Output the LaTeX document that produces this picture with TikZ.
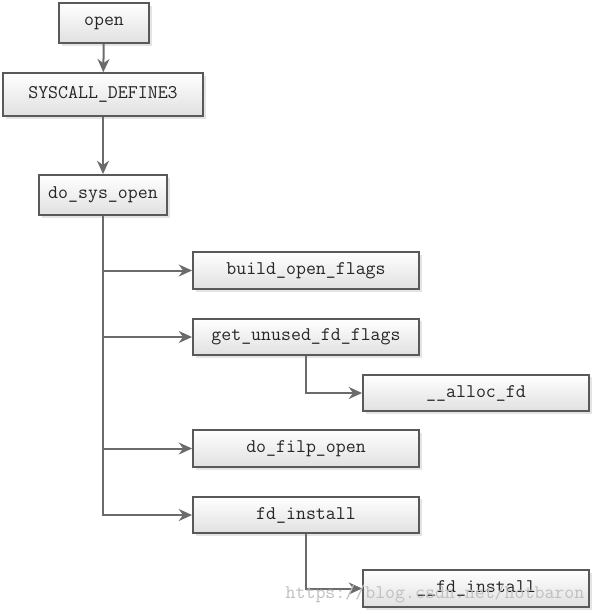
\documentclass[tikz,border=0pt]{standalone}
\usepackage{fontspec}
\usetikzlibrary{shadows,arrows.meta}
\tikzset{func/.style={draw=black!65,line width=1.4pt,top color=white,bottom color=black!12,
    drop shadow={shadow xshift=2pt,shadow yshift=-2pt,opacity=0.3,fill=black!35},
    text=black!85,font=\fontsize{14.5}{17}\selectfont\ttfamily,inner sep=0pt},
  link/.style={draw=black!58,line width=1.5pt,-{Stealth[length=10pt,width=9pt]}}}

\begin{document}
\begin{tikzpicture}[x=0.75pt,y=-0.75pt]
      \useasboundingbox (0,0) rectangle (596,614);
      \node[func,minimum width=67.5pt,minimum height=30pt] (open) at (104,23) {open};
      \node[func,minimum width=150pt,minimum height=32pt] (sysc) at (103,94.5) {SYSCALL\_DEFINE3};
      \node[func,minimum width=96pt,minimum height=30pt] (dso) at (103,195) {do\_sys\_open};
      \node[func,minimum width=169.5pt,minimum height=27.5pt] (bof) at (306,270.5) {build\_open\_flags};
      \node[func,minimum width=169.5pt,minimum height=27.5pt] (guf) at (306,337) {get\_unused\_fd\_flags};
      \node[func,minimum width=169.5pt,minimum height=27.5pt] (alloc) at (476,393) {\_\_alloc\_fd};
      \node[func,minimum width=169.5pt,minimum height=27.5pt] (dfo) at (306,448.5) {do\_filp\_open};
      \node[func,minimum width=169.5pt,minimum height=27.5pt] (fdi) at (306,515) {fd\_install};
      \node[func,minimum width=169.5pt,minimum height=27.5pt] (ufdi) at (476,588.5) {\_\_fd\_install};

      \draw[link] (open) -- (sysc);
      \draw[link] (sysc) -- (dso);
      \foreach \n in {bof,guf,dfo,fdi}
        \draw[link] (dso.south) |- (\n);
      \draw[link] (guf.south) |- (alloc);
      \draw[link] (fdi.south) |- (ufdi);

      \node[text=black!25,font=\fontsize{14.5}{17}\selectfont\ttfamily,inner sep=0pt] (mark) at (435,594) {https://blog.csdn.net/hotbaron};
\end{tikzpicture}
\end{document}
